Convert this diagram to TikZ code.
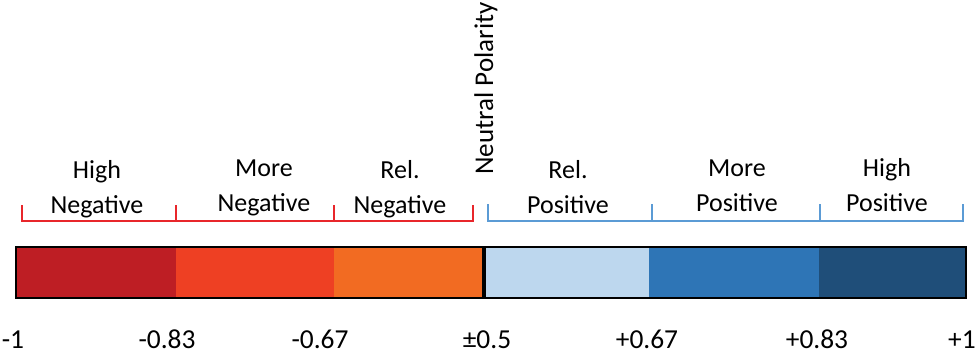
\documentclass[tikz,border=0pt]{standalone}
\usepackage{fontspec}
\setmainfont{Carlito}
\usetikzlibrary{positioning, calc}

\definecolor{highneg}{HTML}{BE1E24}
\definecolor{moreneg}{HTML}{EE4023}
\definecolor{relneg}{HTML}{F26B22}
\definecolor{relpos}{HTML}{BDD7EE}
\definecolor{morepos}{HTML}{2E75B6}
\definecolor{highpos}{HTML}{1F4E79}
\definecolor{negline}{HTML}{E8262B}
\definecolor{posline}{HTML}{5B9BD5}

\begin{document}
\begin{tikzpicture}[
        x=0.02cm, y=-0.02cm,
        seglabel/.style={align=center, anchor=base, inner sep=0pt, font=\fontsize{14.8}{19.9}\selectfont},
        scalelabel/.style={anchor=base, inner sep=0pt, font=\fontsize{15.6}{18}\selectfont},
        negbrace/.style={draw=negline, line width=1.2pt},
        posbrace/.style={draw=posline, line width=1.2pt},
        barframe/.style={draw=black, line width=1.2pt}
    ]
        \useasboundingbox (0,0) rectangle (980,353);

        % colour bar
        \fill[highneg] (16,247) rectangle (176,298);
        \fill[moreneg] (176,247) rectangle (334,298);
        \fill[relneg] (334,247) rectangle (484,298);
        \fill[relpos] (484,247) rectangle (649,298);
        \fill[morepos] (649,247) rectangle (819,298);
        \fill[highpos] (819,247) rectangle (966,298);
        \draw[barframe] (16,247) rectangle (966,298);
        \draw[line width=2pt] (484,247) -- (484,298);

        % brackets
        \draw[negbrace] (22,205) -- (22,221) -- (473,221) -- (473,205);
        \draw[negbrace] (176,205) -- (176,221);
        \draw[negbrace] (334,205) -- (334,221);
        \draw[posbrace] (488,204) -- (488,221) -- (963,221) -- (963,204);
        \draw[posbrace] (652,204) -- (652,221);
        \draw[posbrace] (820,204) -- (820,221);

        \node[seglabel] (hineg) at (97,213) {High\\Negative};
        \node[seglabel] (mrneg) at (264,211) {More\\Negative};
        \node[seglabel] (rlneg) at (400,213) {Rel.\\Negative};
        \node[seglabel] (rlpos) at (568,213) {Rel.\\Positive};
        \node[seglabel] (mrpos) at (737,211) {More\\Positive};
        \node[seglabel] (hipos) at (887,211) {High\\Positive};
        \node[seglabel, rotate=90, anchor=base west, font=\fontsize{15.4}{18}\selectfont] (neutral) at (493,175) {Neutral Polarity};

        % scale values
        \node[scalelabel] (vm1) at (13,348) {-1};
        \node[scalelabel] (vm83) at (167,348) {-0.83};
        \node[scalelabel] (vm67) at (320,348) {-0.67};
        \node[scalelabel] (v05) at (487,348) {±0.5};
        \node[scalelabel] (vp67) at (647,348) {+0.67};
        \node[scalelabel] (vp83) at (817,348) {+0.83};
        \node[scalelabel] (vp1) at (962,348) {+1};
    \end{tikzpicture}
\end{document}
